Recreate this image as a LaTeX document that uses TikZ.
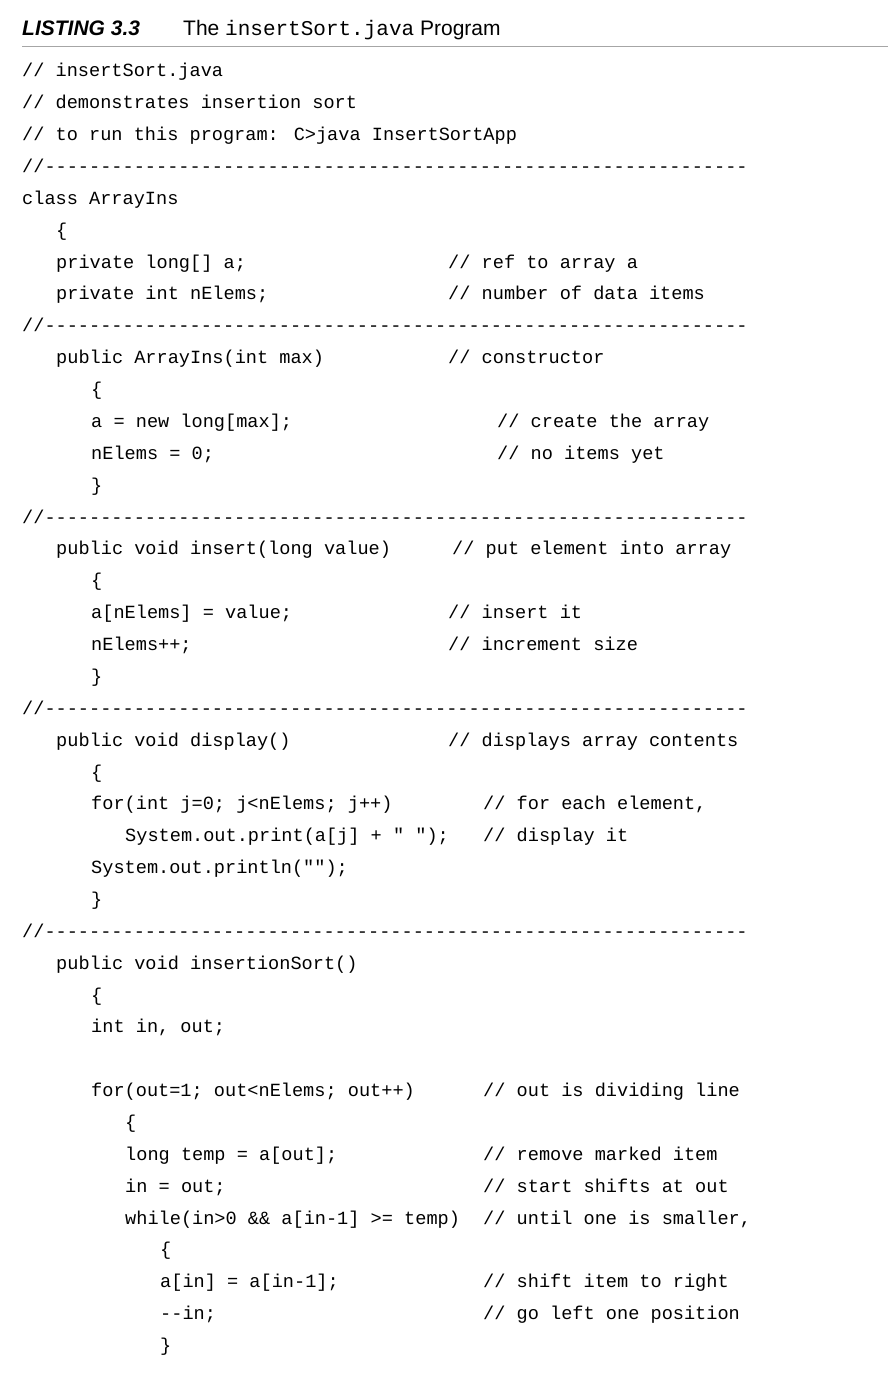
\documentclass[tikz,border=0pt]{standalone}
\usepackage{fontspec}
\newfontfamily\cf{Liberation Mono}
\newfontfamily\hf{Liberation Sans}
\begin{document}
\begin{tikzpicture}[x=1pt,y=-1pt,every node/.style={inner sep=0pt,anchor=base west,font=\cf\fontsize{18.6}{20}\selectfont}]
\useasboundingbox (0,0) rectangle (888,1384);
\newcommand\Ln[3]{\node at (#1,#2+6) {#3};}
\node[font=\hf\bfseries\itshape\fontsize{21}{24}\selectfont] (h1) at (22,35) {LISTING 3.3};
\node[font=\hf\fontsize{21}{24}\selectfont] (h2) at (183,35) {The {\cf insertSort.java} Program};
\draw[gray!70,line width=1pt] (22,46) -- (888,46);
\def\dl{//---------------------------------------------------------------}
\Ln{22}{70}{// insertSort.java}
\Ln{22}{102}{// demonstrates insertion sort}
\Ln{22}{134}{// to run this program: C>java InsertSortApp}
\Ln{22}{166}{\dl}
\Ln{22}{198}{class ArrayIns}
\Ln{56}{230}{\{}
\Ln{56}{262}{private long[] a;}\Ln{448}{262}{// ref to array a}
\Ln{56}{293}{private int nElems;}\Ln{448}{293}{// number of data items}
\Ln{22}{325}{\dl}
\Ln{56}{357}{public ArrayIns(int max)}\Ln{448}{357}{// constructor}
\Ln{91}{389}{\{}
\Ln{91}{421}{a = new long[max];}\Ln{497}{421}{// create the array}
\Ln{91}{453}{nElems = 0;}\Ln{497}{453}{// no items yet}
\Ln{91}{485}{\}}
\Ln{22}{517}{\dl}
\Ln{56}{548}{public void insert(long value)}\Ln{452}{548}{// put element into array}
\Ln{91}{580}{\{}
\Ln{91}{612}{a[nElems] = value;}\Ln{448}{612}{// insert it}
\Ln{91}{644}{nElems++;}\Ln{448}{644}{// increment size}
\Ln{91}{676}{\}}
\Ln{22}{708}{\dl}
\Ln{56}{740}{public void display()}\Ln{448}{740}{// displays array contents}
\Ln{91}{772}{\{}
\Ln{91}{803}{for(int j=0; j<nElems; j++)}\Ln{483}{803}{// for each element,}
\Ln{125}{835}{System.out.print(a[j] + " ");}\Ln{483}{835}{// display it}
\Ln{91}{867}{System.out.println("");}
\Ln{91}{899}{\}}
\Ln{22}{931}{\dl}
\Ln{56}{963}{public void insertionSort()}
\Ln{91}{995}{\{}
\Ln{91}{1026}{int in, out;}
\Ln{91}{1090}{for(out=1; out<nElems; out++)}\Ln{483}{1090}{// out is dividing line}
\Ln{125}{1122}{\{}
\Ln{125}{1154}{long temp = a[out];}\Ln{483}{1154}{// remove marked item}
\Ln{125}{1186}{in = out;}\Ln{483}{1186}{// start shifts at out}
\Ln{125}{1218}{while(in>0 \&\& a[in-1] >= temp)}\Ln{483}{1218}{// until one is smaller,}
\Ln{160}{1249}{\{}
\Ln{160}{1281}{a[in] = a[in-1];}\Ln{483}{1281}{// shift item to right}
\Ln{160}{1313}{{-}{-}in;}\Ln{483}{1313}{// go left one position}
\Ln{160}{1345}{\}}
\end{tikzpicture}
\end{document}
